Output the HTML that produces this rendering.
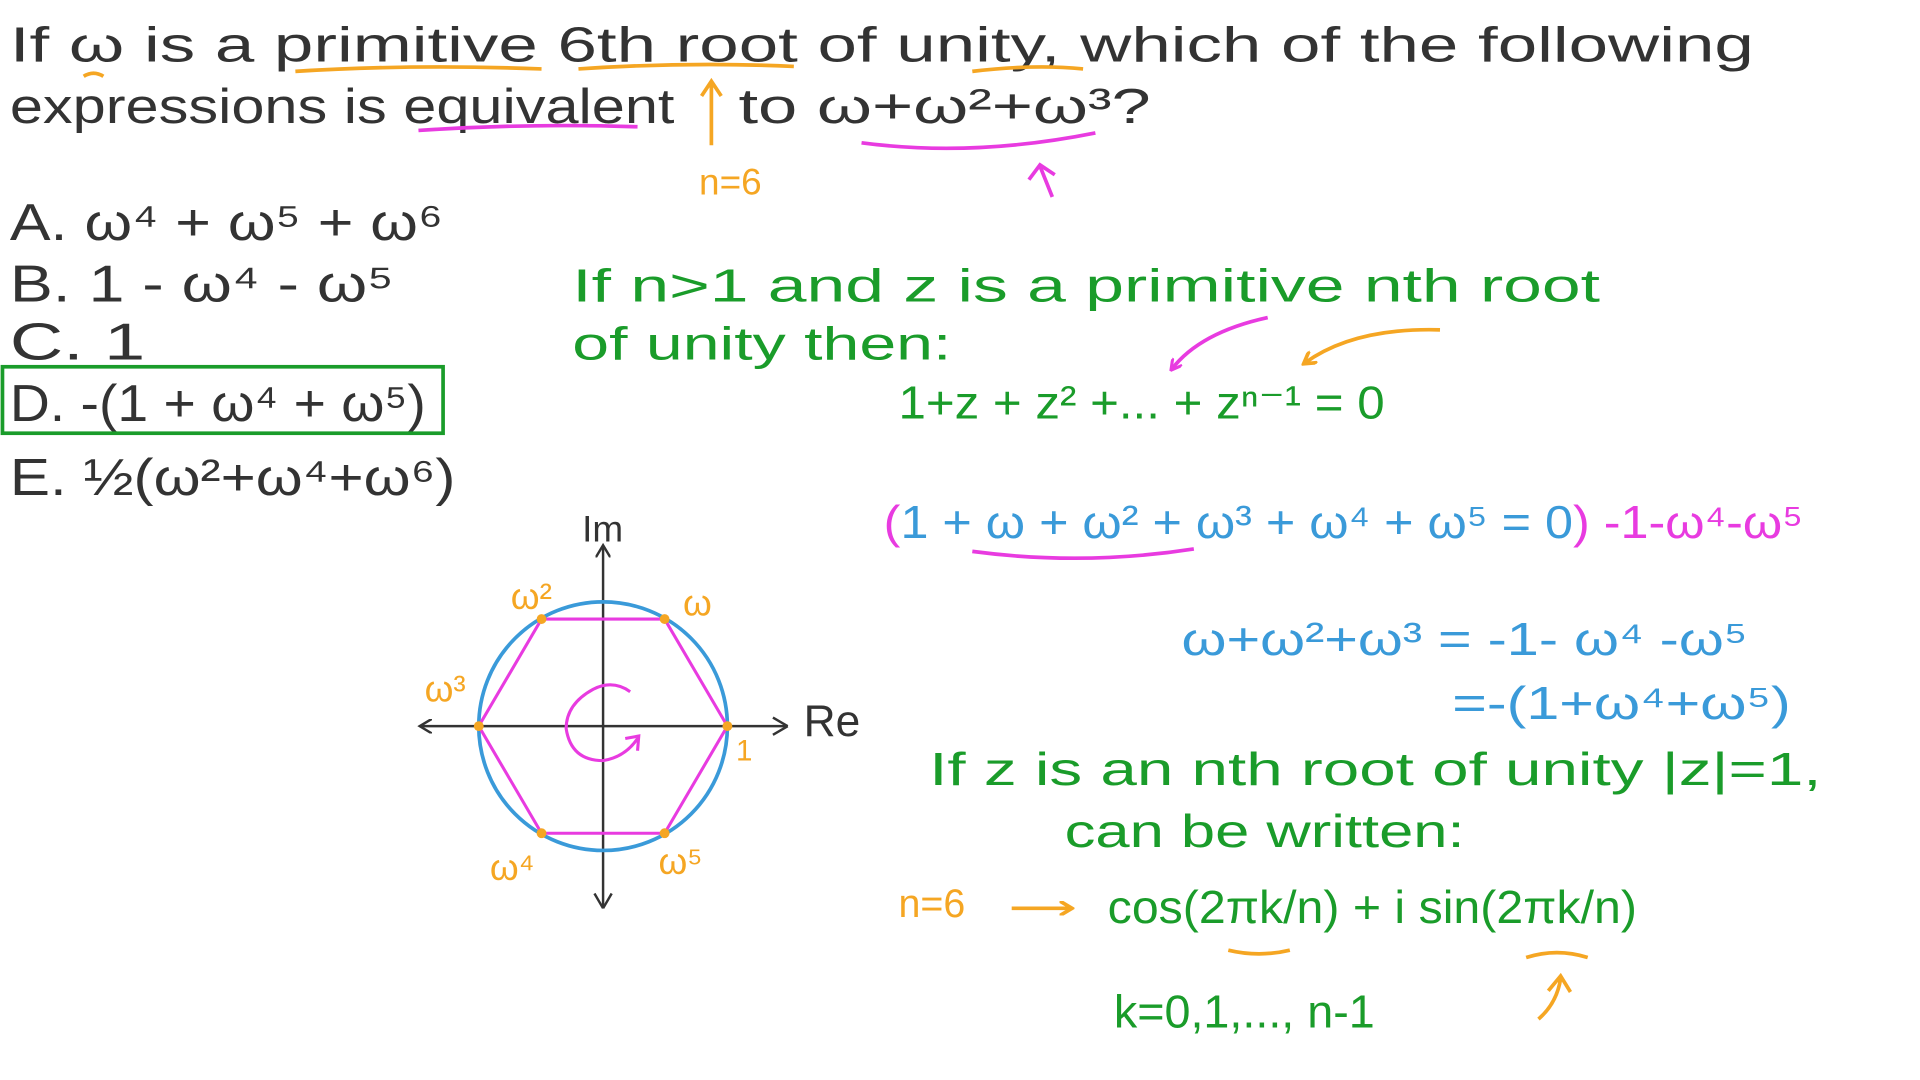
<!DOCTYPE html>
<html><head><meta charset="utf-8"><style>
html,body{margin:0;padding:0;background:#fff;}
svg{display:block}
text{font-family:"Liberation Sans",sans-serif;}
</style></head><body>
<svg width="1920" height="1080" viewBox="0 0 1560 877.5" xmlns="http://www.w3.org/2000/svg">
<defs>
<marker id="ma" markerWidth="10" markerHeight="10" refX="8" refY="5" orient="auto" markerUnits="userSpaceOnUse"><path d="M0,0 L9,5 L0,10" fill="none" stroke="#e83be0" stroke-width="2.5"/></marker>
<marker id="oa" markerWidth="12" markerHeight="12" refX="9" refY="6" orient="auto" markerUnits="userSpaceOnUse"><path d="M0,0 L10,6 L0,12" fill="none" stroke="#f5a623" stroke-width="3"/></marker>
<marker id="ka" markerWidth="12" markerHeight="12" refX="9" refY="6" orient="auto" markerUnits="userSpaceOnUse"><path d="M0,0 L10,6 L0,12" fill="none" stroke="#333" stroke-width="2"/></marker>
</defs>
<g fill="#333" font-size="40">
<text x="8" y="50" textLength="1417" lengthAdjust="spacingAndGlyphs">If ω  is  a  primitive   6th  root  of  unity, which  of  the  following</text>
<text x="8" y="100" textLength="540" lengthAdjust="spacingAndGlyphs">expressions  is  equivalent</text>
<text x="600" y="100" textLength="335" lengthAdjust="spacingAndGlyphs">to   ω+ω²+ω³?</text>
</g>
<g stroke="#f5a623" stroke-width="3" fill="none">
<path d="M240,58 Q335,52 440,56"/><path d="M470,56 Q560,50 645,54"/><path d="M790,58 Q840,52 880,56"/><path d="M68,62 q8,-5 16,0"/>
<path d="M578,118 L578,68 M570,78 L578,66 L586,78"/>
</g>
<text x="568" y="158" fill="#f5a623" font-size="30">n=6</text>
<g stroke="#e83be0" stroke-width="3" fill="none">
<path d="M340,106 Q430,100 518,103"/><path d="M700,116 Q790,128 890,108"/><path d="M855,160 L845,135 M836,146 L845,134 L857,142"/>
</g>
<g fill="#333" font-size="42">
<text x="8" y="195" textLength="352" lengthAdjust="spacingAndGlyphs">A.  ω⁴ + ω⁵ + ω⁶</text>
<text x="8" y="245" textLength="312" lengthAdjust="spacingAndGlyphs">B.   1 - ω⁴ - ω⁵</text>
<text x="8" y="292" textLength="110" lengthAdjust="spacingAndGlyphs">C.    1</text>
<text x="8" y="342" textLength="338" lengthAdjust="spacingAndGlyphs">D.  -(1 + ω⁴ + ω⁵)</text>
<text x="8" y="402" textLength="362" lengthAdjust="spacingAndGlyphs">E.  ½(ω²+ω⁴+ω⁶)</text>
</g>
<rect x="2" y="298" width="358" height="54" fill="none" stroke="#1a9c2a" stroke-width="3"/>
<g fill="#1a9c2a" font-size="38">
<text x="465" y="245" textLength="835" lengthAdjust="spacingAndGlyphs">If n&gt;1  and  z is a primitive  nth  root</text>
<text x="465" y="292" textLength="308" lengthAdjust="spacingAndGlyphs">of unity  then:</text>
<text x="730" y="340" textLength="395" lengthAdjust="spacingAndGlyphs">1+z + z² +... + zⁿ⁻¹ = 0</text>
<text x="755" y="638" textLength="725" lengthAdjust="spacingAndGlyphs">If z is  an  nth  root  of  unity   |z|=1,</text>
<text x="865" y="688" textLength="325" lengthAdjust="spacingAndGlyphs">can  be  written:</text>
<text x="900" y="750" textLength="430" lengthAdjust="spacingAndGlyphs">cos(2πk/n) + i sin(2πk/n)</text>
<text x="905" y="835" textLength="212" lengthAdjust="spacingAndGlyphs">k=0,1,..., n-1</text>
</g>
<path d="M1030,258 Q975,270 952,300" stroke="#e83be0" stroke-width="3" fill="none" marker-end="url(#ma)"/>
<path d="M1170,268 Q1100,266 1060,295" stroke="#f5a623" stroke-width="3" fill="none" marker-end="url(#oa)"/>
<text x="718" y="437" font-size="38" textLength="747" lengthAdjust="spacingAndGlyphs"><tspan fill="#e83be0">(</tspan><tspan fill="#3a9ad9">1 + ω + ω² + ω³ + ω⁴ + ω⁵ = 0</tspan><tspan fill="#e83be0">) -1-ω⁴-ω⁵</tspan></text>
<path d="M790,448 Q880,460 970,446" stroke="#e83be0" stroke-width="3" fill="none"/>
<g fill="#3a9ad9" font-size="38">
<text x="960" y="532" textLength="460" lengthAdjust="spacingAndGlyphs">ω+ω²+ω³ = -1- ω⁴ -ω⁵</text>
<text x="1180" y="584" textLength="275" lengthAdjust="spacingAndGlyphs">=-(1+ω⁴+ω⁵)</text>
</g>
<text x="730" y="745" fill="#f5a623" font-size="32">n=6</text>
<path d="M822,738 L870,738" stroke="#f5a623" stroke-width="3" marker-end="url(#oa)"/>
<g stroke="#f5a623" stroke-width="3" fill="none"><path d="M998,772 q25,6 50,0"/><path d="M1240,778 q25,-8 50,0"/><path d="M1250,828 Q1265,815 1268,795 M1258,805 L1268,793 L1276,806"/></g>
<g stroke="#333" stroke-width="2" fill="none">
<path d="M640,590 L342,590" marker-end="url(#ka)"/><path d="M640,590 L628,583 M640,590 L628,597"/>
<path d="M490,738 L490,444" marker-end="url(#ka)"/><path d="M490,738 L483,726 M490,738 L497,726"/>
</g>
<circle cx="490" cy="590" r="101" fill="none" stroke="#3a9ad9" stroke-width="3"/>
<g stroke="#e83be0" stroke-width="2.5" fill="none">
<path d="M591,590 L540,503 L440,503 L389,590 L440,677 L540,677 Z"/>
<path d="M512,562 Q498,552 482,560 Q460,572 460,592 Q464,618 490,618 Q508,615 518,600"/>
<path d="M508,600 L519,598 L518,610"/>
</g>
<g fill="#f5a623"><circle cx="591" cy="590" r="4"/><circle cx="540" cy="503" r="4"/><circle cx="440" cy="503" r="4"/><circle cx="389" cy="590" r="4"/><circle cx="440" cy="677" r="4"/><circle cx="540" cy="677" r="4"/></g>
<g fill="#f5a623" font-size="30">
<text x="555" y="500">ω</text><text x="415" y="495">ω²</text><text x="345" y="570">ω³</text><text x="598" y="618" font-size="24">1</text>
<text x="398" y="715">ω⁴</text><text x="535" y="710">ω⁵</text>
</g>
<text x="473" y="440" fill="#333" font-size="30">Im</text>
<text x="653" y="598" fill="#333" font-size="36">Re</text>
</svg>
</body></html>
